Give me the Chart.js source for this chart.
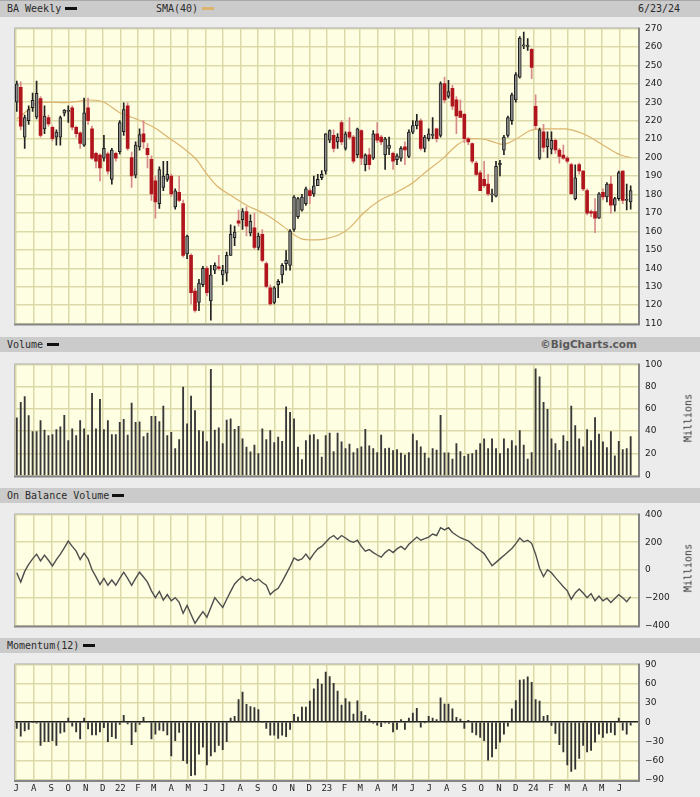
<!DOCTYPE html>
<html>
<head>
<meta charset="utf-8">
<script src="https://cdn.jsdelivr.net/npm/chart.js@4.4.0/dist/chart.umd.min.js"></script>
<style>
  body { margin: 0; background: #ececec; }
  #wrap { position: relative; width: 700px; height: 797px; background: #ececec; overflow: hidden; }
  canvas { position: absolute; left: 0; }
  .strip { position: absolute; left: 0; width: 700px; height: 15px; background: #cbcbcb;
           font: 10px "DejaVu Sans Mono", monospace; color: #2a2a2a; }
  .strip span { position: absolute; top: 2px; line-height: 11px; white-space: nowrap; }
  .strip i { position: absolute; top: 6px; width: 12px; height: 3px; }
  .strip b { position: absolute; top: 2px; right: 63px; font: bold 10.5px "DejaVu Sans", sans-serif; color: #5a5a5a; line-height: 11px; }
  .unit { position: absolute; left: 688px; font: 10px "DejaVu Sans Mono", monospace; color: #333;
          transform: translate(-50%, -50%) rotate(-90deg); white-space: nowrap; }
</style>
</head>
<body>
<div id="wrap">
  <div class="strip" style="top:0;height:16px;border-top:1px solid #a8a8a8">
    <span style="left:7px">BA Weekly</span><i style="left:65px;background:#111"></i>
    <span style="left:156px">SMA(40)</span><i style="left:202px;background:#dcb46e"></i>
    <span style="left:638px">6/23/24</span>
  </div>
  <canvas id="price" width="700" height="320" style="top:16px"></canvas>

  <div class="strip" style="top:337px">
    <span style="left:7px">Volume</span><i style="left:47px;background:#111"></i>
    <b>©BigCharts.com</b>
  </div>
  <canvas id="volume" width="700" height="136" style="top:352px"></canvas>
  <div class="unit" style="top:418px">Millions</div>

  <div class="strip" style="top:488px">
    <span style="left:7px">On Balance Volume</span><i style="left:112px;background:#111"></i>
  </div>
  <canvas id="obv" width="700" height="136" style="top:502px"></canvas>
  <div class="unit" style="top:568px">Millions</div>

  <div class="strip" style="top:638px">
    <span style="left:7px">Momentum(12)</span><i style="left:83px;background:#111"></i>
  </div>
  <canvas id="momentum" width="700" height="145" style="top:652px"></canvas>
</div>

<script>
// BA weekly, one entry per week, first week ends 2021-07-02
const opens = [
  230,238,211,220,227,222,232,215.5,221.7,216.4,
  211.1,211.1,224,225,227,216.4,213.4,206.7,227,215.5,
  202.3,201.4,199.7,202,188.2,202.3,203.2,214,228,200,
  190.5,205.8,212.9,205,199,187.4,175,183.8,188.2,190,
  173.3,181.2,175,147.8,147,127.6,121.5,131.1,139.9,122.3,
  139,140.8,136.4,137.3,147,156.6,165.7,166.3,170.7,159.2,
  161.9,151.3,158.4,142.5,129.4,121.5,131.1,136.4,142.5,141.6,
  161,168,171.5,175,182.1,180.3,184.7,189.1,192.6,209.4,
  212,208.5,219,205,213.8,211.1,201.5,214.6,196.2,201.5,
  199.7,212.9,211.1,201.5,205,202.3,198.8,199.7,205.8,200.6,
  213.8,217.3,219.9,205,210.2,212,215.5,212,240.1,233.1,
  237.5,231.3,225.2,223.4,210.2,207.6,197,191.7,188.2,185.6,
  179.8,179.1,196,204,212,220,231.3,243.6,260.5,260.3,
  258.6,227.8,199.7,214,205.9,204.5,209.4,204.1,201.4,199.7,
  196.2,177.7,196.2,192.7,182.1,170.7,170.7,167.2,181.2,178.6,
  185.6,174.2,177.7,192.7,176.8,176
];
const highs = [
  241.5,241,223,228,235,241.4,233,228,223,217,
  215,222.5,226,228,228,217,214,232.3,232.3,217,
  203,202,212,203,205,203,220,229.6,229.6,203,
  208.5,215.5,220,207.6,201,190,195,198,198,191,
  183,190,177,158,148,129,134,141,141,141.6,
  143,147,141.6,148.7,163.6,162.8,171.5,172.4,173.3,168.9,
  169.8,159,161,143.5,131,130,133.8,142.5,149.6,161,
  179.4,178.5,180,184,183,190,190.9,193,213,215,
  215,213,220,214,221.7,212,216,215,202,205,
  214.6,219,212,211,211.1,203,202,206,208.5,215,
  220,223.4,221,212,215.5,221.7,216,241,243.6,241.9,
  239.2,233,231.3,224,211,208,198,193,197.9,190.9,
  182.9,197.9,198.5,212,222.5,235,246,265.5,268,264.5,
  259,234,216,218,214,214,210,205,206.7,200.6,
  197,196,197,193,183,171.5,177.7,181,183,186.5,
  190,178.5,192.7,193,185.6,184.7
];
const lows = [
  225,215,205,218,225,221,211,213,217,209,
  206.7,206.7,222.5,219,215,211,205,206,218,199,
  194.4,187.4,198,191,185.6,198,202,212,204,183.8,
  189,204,205,194.4,176.8,167.1,172.4,182,187,179,
  172,176,146,145.2,120.6,116.2,117,130,125,111.8,
  137,139,131.1,133,147,152.2,162.8,161,157.5,157.5,
  150.4,150,143.4,129.4,120,120.6,124,132,139,139,
  160,167,171,174,175,179,184.7,188,191,208,
  203,205,207,204,210,197,200,196.2,192.7,193.5,
  199,208,207,193.5,201.5,193.5,196.2,198,196.2,200,
  213,215.5,204,203,209,210.2,208.5,211,229.6,232.2,
  226,212.9,221.7,208,207,197,190,182,183.8,179.4,
  175.9,178.6,190,201.5,211,218,230,243,259,258,
  242.8,215.5,199,203,200,202,202.3,197,199,197,
  180,177,191,182,168.9,168,159.3,167,177,176,
  169.8,171,176.8,175,171.6,172
];
const closes = [
  240,217,221.7,226,231,234.8,212,222.5,218.2,210.2,
  213.8,221.7,225.7,225.2,216.4,212.9,207.6,224.3,220,199.7,
  198,194.4,205,192.6,204,199.7,219,226,205,190,
  206.7,212.5,208.5,201.5,180.3,175.9,193.5,190,190.9,180.3,
  182,176.8,147,157.5,126.7,117.1,132,139.9,126.7,136.4,
  141.6,139.9,139,147,158.4,159.6,164.5,170.7,162.8,165.4,
  151.3,157.5,144.3,130.2,120.6,129.4,132.9,141.6,144.3,160.1,
  178.6,177.7,178.6,183,179.4,184.7,188.2,190.9,212.9,214.6,
  205,211.1,208.5,212.9,211.1,198,215.5,199.7,201.5,196.2,
  212.9,209.4,208.5,210.2,206.7,198,201,205,204.1,213.8,
  217.3,219.9,205,211.1,212.9,212.3,210.2,240.1,231.3,235.7,
  227.8,222.5,221.7,210.2,208.5,198,190.9,182.1,184.7,180.3,
  180,195.3,197,211.1,221.7,234,245,264.7,261,260.7,
  248.9,217.3,215,205.5,210.2,209.3,204.1,200.6,199.7,198,
  180.4,189,192.7,183,169.8,169.8,167.2,180.4,178.6,185.6,
  174.2,177.7,191.8,176.8,177,182.1
];

// SMA(40): week position and value
const smaWeek = [0,3,5,8,12,15,18.5,22,26,30.3,35.3,38.7,42.1,45.4,48,50.5,54.7,58,63.1,67.3,
  69.8,72.4,75.7,78.3,81.6,84.1,87.5,91.7,95.9,100.1,103.5,107.7,111.1,114.4,117,120.3,122.8,
  126.2,129.6,133,138,143,148.1,152.3,155];
const smaValue = [220.8,226,229.6,230,229.8,230.3,231.2,230,224.3,220.8,215.5,210.2,205,198.8,191,
  184.7,178.6,174.2,168.9,162.7,158.4,155.7,155.4,156.1,158.4,162,169.8,176.8,181.2,186.5,192.6,
  199.7,206.7,210.2,210.2,208.5,207.1,210.2,214.6,215.5,215.5,212.9,206.7,201.5,200];

// volume, millions
const volume = [
  52,66,71,54,39.6,39.6,49.4,41,36,37,
  41.3,43.8,54.2,31.5,42,36,49.4,42,36.5,73.9,
  42,68.5,41.3,49.4,37,37,47.8,50.6,36.5,65.2,
  47.8,48.3,35.1,38.2,53.4,53.4,48.6,62.6,36,38.8,
  24.2,32.3,79.5,46.6,71.6,58.4,40.4,39.6,30.6,95.5,
  41,43,28.9,50,51.1,41.6,44.4,33.1,25.6,21.3,
  27.5,19.9,42,32.3,40.4,29.8,34.6,30.9,61.8,57,
  51.1,25.6,14.3,31.5,36.5,37,32.3,16.6,36,38.2,
  21.6,38.2,30.3,24.2,28.4,20.8,24.2,25.8,41.6,26.7,
  24.2,20.8,36.5,24.2,24.7,22.5,23.3,20.2,18.5,20.8,
  37.4,31.5,25.8,20.2,15.7,24.2,23,54.2,20.5,20.5,
  14.9,28.9,21.6,17.4,19.1,19.9,23,28.9,33.1,24.2,
  33.1,24.2,19.9,33.1,24.2,31.5,26.7,40.4,27.5,14.9,
  20.8,96,88.8,66,59.6,33.1,28.9,22.8,36,30.9,
  62.6,44.9,33.1,25.8,41.3,31.5,52.2,37.4,30.3,25.3,
  39.6,17.7,30.9,23.3,24.2,35.1
];

// on balance volume, millions
const obv = [
  -20,-87,-10,40,80,114,65,107,70,29,
  75,114,160,208,170,136,76,121,80,2,
  -50,-105,-60,-110,-72,-110,-60,-16,-60,-110,
  -60,-16,-50,-87,-150,-199,-154,-217,-177,-221,
  -199,-232,-311,-255,-320,-384,-340,-300,-340,-270,
  -199,-235,-270,-210,-154,-100,-70,-47,-76,-58,
  -81,-65,-90,-110,-177,-150,-132,-83,-30,25,
  87,69,80,114,76,118,152,170,200,230,
  248,221,248,230,210,199,214,170,136,147,
  125,108,92,125,147,125,152,170,147,185,
  210,237,214,225,237,259,248,304,288,304,
  270,250,232,220,210,185,159,140,118,75,
  31,55,80,105,130,155,190,230,203,214,
  192,114,13,-47,2,-20,-55,-87,-120,-150,
  -210,-165,-136,-165,-199,-170,-221,-188,-221,-203,
  -233,-205,-177,-199,-228,-192
];

// momentum(12)
const momentum = [
  -9.6,-21.7,-13.6,-11.1,0,-1.5,-36.3,-30.2,-30.2,-28.7,
  -36.3,-17.1,-15.1,6.6,-6,-15.1,-26.2,6.6,-10.6,-19.7,
  -19.7,-15,-8.6,-30.2,-22.7,-25.2,-3.5,10.6,-2.5,-34.8,
  -15.1,-3.5,7.6,1.5,-26.2,-18.6,-12.6,-13.6,-19.7,-52.4,
  -28.7,-16.1,-60,-64,-83.2,-82.2,-49.9,-38.8,-66.5,-52.4,
  -46.4,-36.3,-42.8,-30.2,6.6,9.1,35.3,46.9,27.7,24.2,
  22.7,19.7,0,-9.6,-20.2,-20.2,-25.2,-20.2,-22.7,-11.1,
  12.1,8.1,23.7,23.7,32.8,51.9,67,59.5,78.1,71.1,
  60.5,48.4,26.7,36.8,31.8,12.6,33.3,16.6,10.6,5,
  -1.5,-4.5,-7,-1,-2,-15.1,-11.1,4,-11.1,6.6,
  14.1,21.7,-7.6,-1,9,6.6,4,37.8,28.2,28.2,
  20.7,7.6,5,-9.6,3,-16.1,-19.7,-23.7,-28.7,-59,
  -53.9,-41.3,-31.2,-18.6,-6,20.7,33.8,65.5,66.5,70.6,
  62,35.3,32.8,9.1,10.6,-5,-17.6,-34.8,-46.4,-66.5,
  -76.6,-73.1,-56.4,-36.3,-46.4,-43.8,-31.2,-18.6,-23.7,-17.1,
  -16.1,-20,6.6,-12.6,-18.6,-4.5
];

// month labels from Jul 2021 to Jun 2024
const monthLabels = ['J','A','S','O','N','D','22','F','M','A','M','J',
  'J','A','S','O','N','D','23','F','M','A','M','J',
  'J','A','S','O','N','D','24','F','M','A','M','J'];

const WEEK_MS = 7 * 864e5;
const t0 = Date.UTC(2021, 6, 2);
const monthTicks = monthLabels.map((_, k) => (Date.UTC(2021, 6 + k, 1) - t0) / WEEK_MS);

const GRID = '#dcd9a9';
const tickFont = { family: 'DejaVu Sans', size: 9 };

// pale plot background plus the 3d frame round it
const panelFrame = {
  id: 'panelFrame',
  beforeDraw(chart) {
    const { ctx, chartArea: a } = chart;
    ctx.save();
    ctx.fillStyle = '#fefee2';
    ctx.fillRect(a.left, a.top, a.right - a.left, a.bottom - a.top);
    ctx.restore();
  },
  afterDraw(chart) {
    const { ctx, chartArea: a } = chart;
    ctx.save();
    ctx.strokeStyle = '#b5b5b5';
    ctx.lineWidth = 1;
    ctx.beginPath();
    ctx.moveTo(a.left - 0.5, a.bottom);
    ctx.lineTo(a.left - 0.5, a.top - 0.5);
    ctx.lineTo(a.right, a.top - 0.5);
    ctx.stroke();
    ctx.strokeStyle = '#858585';
    ctx.lineWidth = 2;
    ctx.beginPath();
    ctx.moveTo(a.left - 1, a.bottom + 1);
    ctx.lineTo(a.right + 1, a.bottom + 1);
    ctx.lineTo(a.right + 1, a.top - 1);
    ctx.stroke();
    ctx.restore();
  }
};

function xAxis(showLabels) {
  return {
    type: 'linear',
    min: -0.45,
    max: 156.85,
    offset: false,
    afterBuildTicks: s => { s.ticks = monthTicks.map(v => ({ value: v })); },
    afterFit: s => { s.height = showLabels ? 17 : 0; },
    grid: { color: GRID, lineWidth: 1.5, drawTicks: false, offset: false },
    border: { display: false },
    ticks: {
      display: showLabels,
      autoSkip: false,
      maxRotation: 0,
      padding: 3,
      color: '#222',
      font: { family: 'DejaVu Sans Mono', size: 9 },
      callback: (v, i) => monthLabels[i]
    }
  };
}

function yAxis(min, max, step, zeroLine) {
  return {
    type: 'linear',
    position: 'right',
    min: min,
    max: max,
    afterFit: s => { s.width = 62; },
    grid: {
      drawTicks: false,
      color: c => (zeroLine && c.tick && c.tick.value === 0) ? '#1e1e1e' : GRID,
      lineWidth: 1.5
    },
    border: { display: false },
    ticks: {
      stepSize: step,
      padding: 7,
      color: '#1a1a1a',
      font: tickFont,
      callback: v => String(v).replace('-', '\u2212')
    }
  };
}

function makeChart(id, datasets, y, showX, padTop, padBottom) {
  return new Chart(document.getElementById(id), {
    type: 'bar',
    data: { datasets: datasets },
    options: {
      responsive: false,
      animation: false,
      events: [],
      layout: { padding: { left: 15, right: 0, top: padTop, bottom: padBottom } },
      plugins: { legend: { display: false }, tooltip: { enabled: false } },
      scales: { x: xAxis(showX), y: y }
    },
    plugins: [panelFrame]
  });
}

const weeks = closes.map((_, i) => i);
const isUp = weeks.map(i => closes[i] >= opens[i]);

// price panel: bodies on top of wicks, SMA underneath
makeChart('price', [
  {
    label: 'body',
    data: weeks.map(i => ({ x: i, y: [opens[i], closes[i]] })),
    backgroundColor: weeks.map(i => isUp[i] ? '#8d8d8d' : '#b0141c'),
    borderColor: weeks.map(i => isUp[i] ? '#1c1c1c' : '#b0141c'),
    borderWidth: weeks.map(i => isUp[i] ? 1 : 0),
    borderSkipped: false,
    barThickness: 3,
    minBarLength: 1,
    grouped: false,
    order: 0
  },
  {
    label: 'wick',
    data: weeks.map(i => ({ x: i, y: [lows[i], highs[i]] })),
    backgroundColor: weeks.map(i => isUp[i] ? '#222' : '#d88a8a'),
    barThickness: 1,
    grouped: false,
    order: 1
  },
  {
    type: 'line',
    label: 'SMA(40)',
    data: smaWeek.map((w, k) => ({ x: w, y: smaValue[k] })),
    borderColor: '#dcb46e',
    borderWidth: 1.2,
    pointRadius: 0,
    cubicInterpolationMode: 'monotone',
    order: 2
  }
], yAxis(110, 270, 10, false), false, 6, 9);

makeChart('volume', [
  {
    label: 'Volume',
    data: weeks.map(i => ({ x: i, y: volume[i] })),
    backgroundColor: '#383838',
    barThickness: 1.2,
    grouped: false
  }
], yAxis(0, 100, 20, false), false, 6, 10);

makeChart('obv', [
  {
    type: 'line',
    label: 'On Balance Volume',
    data: weeks.map(i => ({ x: i, y: obv[i] })),
    borderColor: '#4e4e4e',
    borderWidth: 1.4,
    pointRadius: 0,
    tension: 0
  }
], yAxis(-400, 400, 200, false), false, 6.5, 9.5);

makeChart('momentum', [
  {
    label: 'Momentum(12)',
    data: weeks.map(i => ({ x: i, y: momentum[i] })),
    backgroundColor: '#333',
    barThickness: 1.2,
    grouped: false
  }
], yAxis(-90, 90, 30, true), true, 7, 0);
</script>
</body>
</html>
